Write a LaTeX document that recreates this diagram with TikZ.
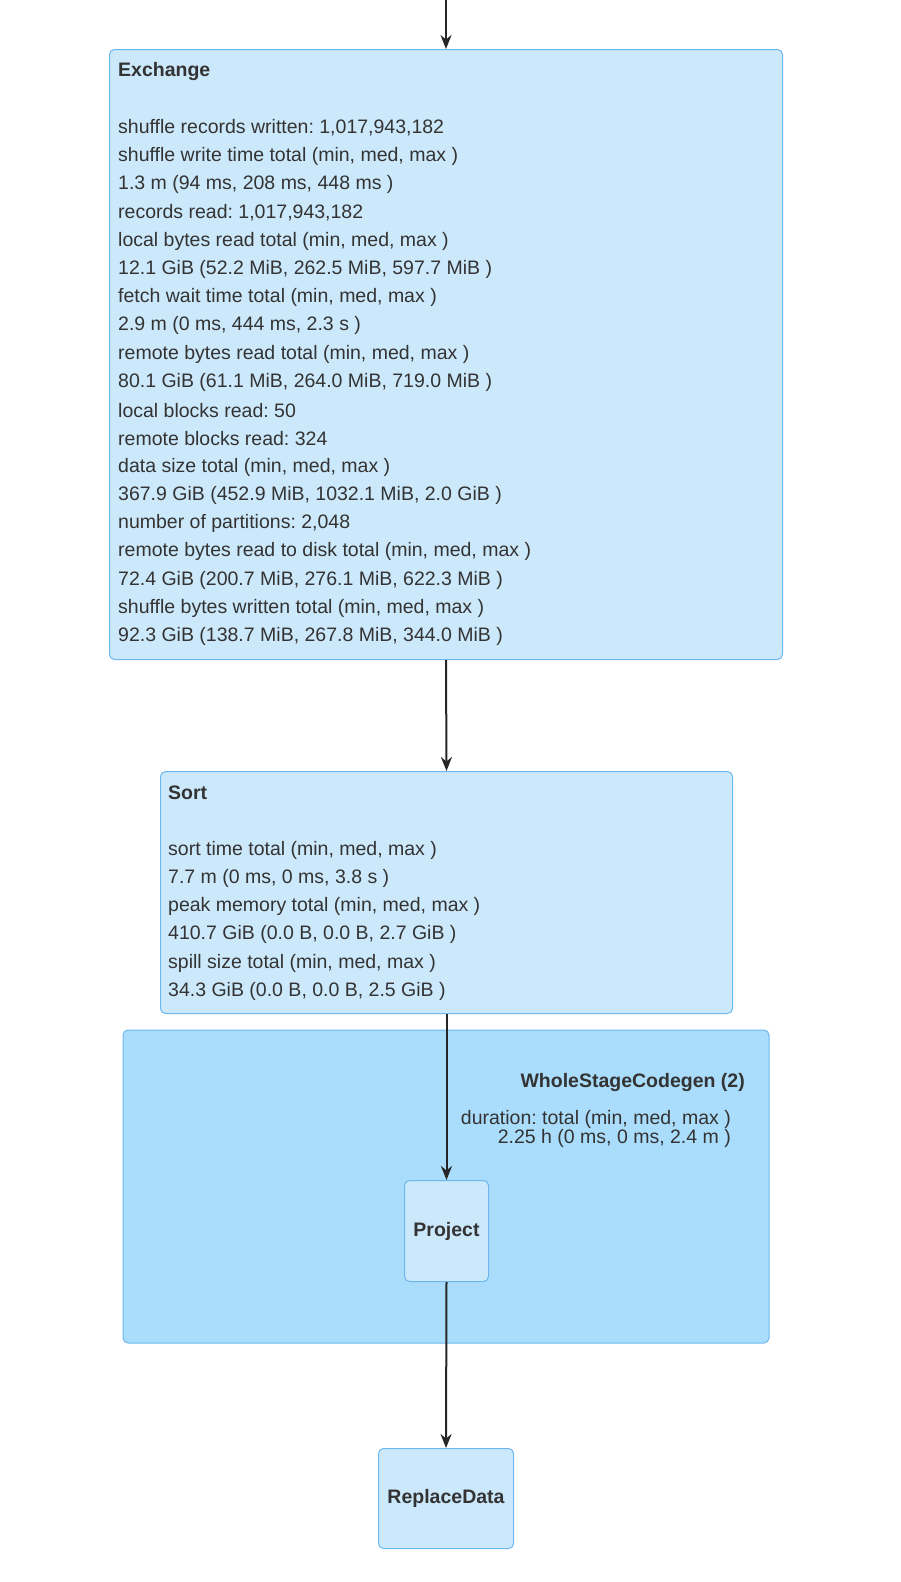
\documentclass[tikz,border=0pt]{standalone}
\usepackage{fontspec}
\setmainfont{Liberation Sans}
\usetikzlibrary{arrows.meta}
\frenchspacing
\definecolor{nodefill}{HTML}{CCE8FB}
\definecolor{clfill}{HTML}{AADCFB}
\definecolor{bord}{HTML}{6CB8EE}
\definecolor{txt}{HTML}{333333}
\tikzset{
 box/.style={draw=bord,fill=nodefill,rounded corners=5pt,line width=1pt},
 cl/.style={draw=bord,fill=clfill,rounded corners=5pt,line width=1pt},
 lbl/.style={anchor=west,inner sep=0pt,text=txt,font=\fontsize{19.5}{22}\selectfont},
 blbl/.style={lbl,font=\fontsize{19.5}{22}\selectfont\bfseries},
 conn/.style={-{Stealth[length=14pt,width=11pt]},line width=2pt,draw=black!85}
}
\begin{document}
\begin{tikzpicture}[x=1pt,y=-1pt]
\useasboundingbox (0,0) rectangle (900,1582);
\coordinate (top) at (446,0);
\draw[cl] (123,1030) rectangle (769,1343);
\node[blbl,anchor=east] (wsc) at (745,1082) {WholeStageCodegen (2)};
\node[lbl,anchor=east] (d1) at (731,1119) {duration: total (min, med, max )};
\node[lbl,anchor=east] (d2) at (731,1138) {2.25 h (0 ms, 0 ms, 2.4 m )};
\node[box,minimum width=673,minimum height=610,anchor=north west] (ex) at (109,49) {};
\node[blbl] at (118,72) {Exchange};
\foreach \t [count=\i from 0] in {{shuffle records written: 1,017,943,182},
 {shuffle write time total (min, med, max )},
 {1.3 m (94 ms, 208 ms, 448 ms )},
 {records read: 1,017,943,182},
 {local bytes read total (min, med, max )},
 {12.1 GiB (52.2 MiB, 262.5 MiB, 597.7 MiB )},
 {fetch wait time total (min, med, max )},
 {2.9 m (0 ms, 444 ms, 2.3 s )},
 {remote bytes read total (min, med, max )},
 {80.1 GiB (61.1 MiB, 264.0 MiB, 719.0 MiB )},
 {local blocks read: 50},
 {remote blocks read: 324},
 {data size total (min, med, max )},
 {367.9 GiB (452.9 MiB, 1032.1 MiB, 2.0 GiB )},
 {number of partitions: 2,048},
 {remote bytes read to disk total (min, med, max )},
 {72.4 GiB (200.7 MiB, 276.1 MiB, 622.3 MiB )},
 {shuffle bytes written total (min, med, max )},
 {92.3 GiB (138.7 MiB, 267.8 MiB, 344.0 MiB )}}
 \node[lbl] at (118,128+28.25*\i) {\t};
\node[box,minimum width=572,minimum height=242,anchor=north west] (sort) at (160,771) {};
\node[blbl] at (168,793) {Sort};
\foreach \t [count=\i from 0] in {{sort time total (min, med, max )},
 {7.7 m (0 ms, 0 ms, 3.8 s )},
 {peak memory total (min, med, max )},
 {410.7 GiB (0.0 B, 0.0 B, 2.7 GiB )},
 {spill size total (min, med, max )},
 {34.3 GiB (0.0 B, 0.0 B, 2.5 GiB )}}
 \node[lbl] at (168,850+28.25*\i) {\t};
\node[box,minimum width=84,minimum height=101,anchor=north west,text=txt,font=\fontsize{19.5}{22}\selectfont\bfseries] (proj) at (404,1180) {Project};
\node[box,minimum width=135,minimum height=100,anchor=north west,text=txt,font=\fontsize{19.5}{22}\selectfont\bfseries] (rd) at (378,1448) {ReplaceData};
\draw[conn] (top) -- (ex.north);
\draw[conn] (ex.south) -- (sort.north);
\draw[conn] (sort.south) -- (proj.north);
\draw[conn] (proj.south) -- (rd.north);
\end{tikzpicture}
\end{document}
